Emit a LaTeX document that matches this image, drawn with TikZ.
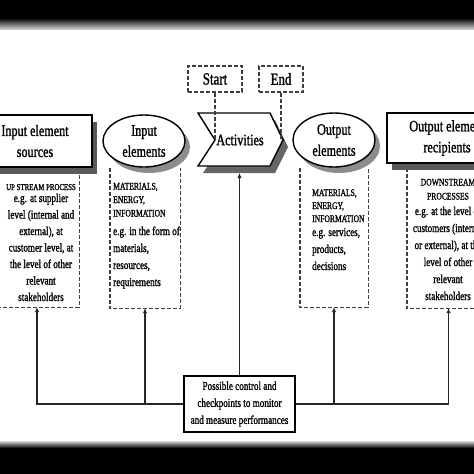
\documentclass[tikz,border=0pt]{standalone}
\usepackage{fontspec}
\setmainfont{Liberation Serif}[FakeStretch=0.76, FakeBold=1.3]
\usetikzlibrary{arrows.meta,shadows,shapes.geometric}
\begin{document}
\begin{tikzpicture}[x=1pt,y=-1pt,
  title/.style={font=\fontsize{16}{21}\selectfont, align=center},
  solidbox/.style={draw=black, line width=1.8pt, fill=white, rectangle, inner sep=0pt,
    drop shadow={shadow xshift=5pt, shadow yshift=-7pt, fill=black!65, opacity=1}},
  ell/.style={draw=black, line width=1.4pt, fill=white, ellipse, inner sep=0pt,
    drop shadow={shadow xshift=5pt, shadow yshift=-6pt, fill=black!45, opacity=1}},
  dbox/.style={draw=none, rectangle, inner sep=0pt},
  dline/.style={draw=black!75, line width=1.4pt, dash pattern=on 4pt off 2pt},
  ctrlbox/.style={draw=black, line width=1.6pt, fill=white, rectangle, inner sep=0pt,
    align=center, font=\fontsize{12}{17}\selectfont},
  capl/.style={font=\fontsize{10}{12}\selectfont, anchor=base, inner sep=0pt},
  txtl/.style={font=\fontsize{12}{14}\selectfont, anchor=base, inner sep=0pt},
  arr/.style={line width=1.1pt, draw=black!85, -{Latex[length=5pt,width=4.5pt]}},
]
\useasboundingbox (0,0) rectangle (474,474);
% frame bands
\fill[black] (0,0) rectangle (474,18);
\shade[top color=black, bottom color=black!20] (0,18) rectangle (474,29);
\shade[top color=black!15, bottom color=black] (0,441) rectangle (474,448);
\fill[black] (0,448) rectangle (474,474);

% dashed text boxes
\node[dbox, minimum width=84pt, minimum height=135pt] (lbox) at (37,239.5) {};
\node[dbox, minimum width=70pt, minimum height=140pt] (ibox) at (145,238) {};
\node[dbox, minimum width=68pt, minimum height=139pt] (obox) at (334,237.5) {};
\node[dbox, minimum width=83pt, minimum height=140pt] (rbox) at (448.5,238) {};
\foreach \b in {lbox,ibox,obox,rbox}
  \draw[dline] (\b.north west) -- (\b.south west) -- (\b.south east) -- (\b.north east);

% title shapes
\node[solidbox, title, minimum width=114pt, minimum height=52pt] (isrc) at (35,141) {Input element\\sources};
\node[ell, title, minimum width=82pt, minimum height=52pt] (iel) at (144,141) {Input\\elements};
\node[ell, title, minimum width=82pt, minimum height=54pt] (oel) at (334,140) {Output\\elements};
\node[solidbox, title, minimum width=120pt, minimum height=50pt] (orec) at (447,138) {Output element\\recipients};

% activities chevron
\begin{scope}[shift={(5,7)}]
\fill[black!60] (198,113) -- (270,113) -- (283,140) -- (270,166) -- (198,166) -- (215,140) -- cycle;
\end{scope}
\draw[line width=1.4pt, fill=white] (198,113) -- (270,113) -- (283,140) -- (270,166) -- (198,166) -- (215,140) -- cycle;
\node[title] (act) at (240,140) {Activities};
\coordinate (actB) at (239.5,173);

% start / end
\node[dbox, draw=black!75, line width=1.4pt, dash pattern=on 4pt off 2pt, minimum width=54pt, minimum height=26pt,
  font=\fontsize{17}{20}\selectfont] (start) at (215,79) {Start};
\node[dbox, draw=black!75, line width=1.4pt, dash pattern=on 4pt off 2pt, minimum width=44pt, minimum height=26pt,
  font=\fontsize{17}{20}\selectfont] (end) at (281,79) {End};
\coordinate (sEnd) at (215,140);
\coordinate (eEnd) at (281,140);
\draw[dline] (start.south) -- (sEnd);
\draw[dline] (end.south) -- (eEnd);

% texts in dashed boxes
\node[capl, font=\fontsize{9}{10}\selectfont] (l0) at (41,190) {UP STREAM PROCESS};
\foreach \t [count=\i] in {{e.g. at supplier},{level (internal and},{external), at},{customer level, at},{the level of other},{relevant},{stakeholders}}
  \node[txtl] (l\i) at (41,{185.5+16.5*\i}) {\t};

\foreach \t [count=\i] in {{MATERIALS,},{ENERGY,},{INFORMATION}}
  \node[capl, anchor=base west] (ic\i) at (113,{176+13.5*\i}) {\t};
\foreach \t [count=\i] in {{e.g. in the form of},{materials,},{resources,},{requirements}}
  \node[txtl, anchor=base west] (it\i) at (113,{218+17*\i}) {\t};

\foreach \t [count=\i] in {{MATERIALS,},{ENERGY,},{INFORMATION}}
  \node[capl, anchor=base west] (oc\i) at (312,{183+13*\i}) {\t};
\foreach \t [count=\i] in {{e.g. services,},{products,},{decisions}}
  \node[txtl, anchor=base west] (ot\i) at (312,{219+17*\i}) {\t};

\foreach \t [count=\i] in {{DOWNSTREAM},{PROCESSES}}
  \node[capl] (rc\i) at (448,{171.5+14*\i}) {\t};
\foreach \t [count=\i] in {{e.g. at the level of},{customers (internal},{or external), at the},{level of other},{relevant},{stakeholders}}
  \node[txtl] (rt\i) at (448,{198+17*\i}) {\t};

% control box
\node[ctrlbox, minimum width=111pt, minimum height=56pt] (ctrl) at (239.5,404)
  {Possible control and\\checkpoints to monitor\\and measure performances};

\draw[arr] (ctrl.west) -| (lbox.south);
\draw[arr] (ctrl.west) -| (ibox.south);
\draw[arr] (ctrl.east) -| (obox.south);
\draw[arr] (ctrl.east) -| (rbox.south);
\draw[arr] (ctrl.north) -- (actB);
\end{tikzpicture}
\end{document}
